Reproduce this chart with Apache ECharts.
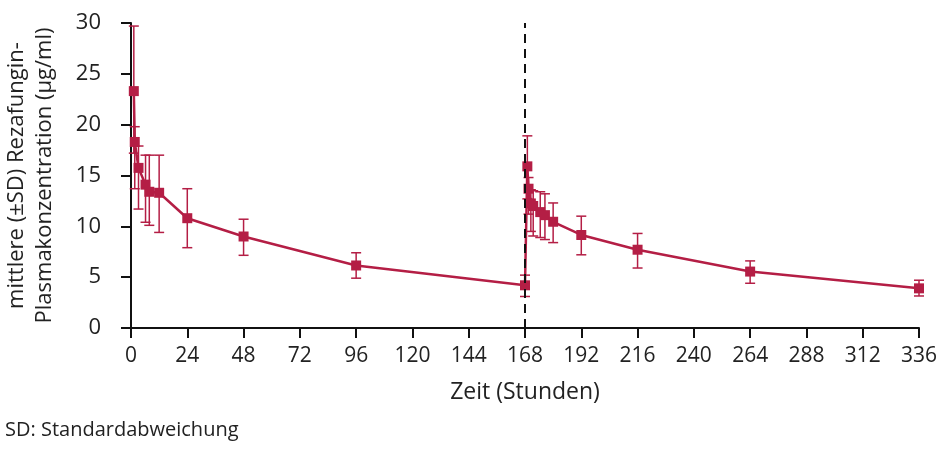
<!DOCTYPE html>
<html>
<head>
  <meta charset="utf-8">
  <script src="https://cdn.jsdelivr.net/npm/echarts@6/dist/echarts.min.js"></script>
  <style>
    html, body { margin: 0; padding: 0; background: #fff; }
  </style>
</head>
<body>
<div id="main" style="width: 940px; height: 450px"></div>
<script>
  // Zeitpunkte (Stunden) und Mittelwerte +/- SD
  const timeH = [1.2, 1.6, 3.2, 6.2, 7.8, 12, 24, 48, 96, 168,
    169, 169.5, 170.5, 171.5, 174.5, 176.5, 180, 192, 216, 264, 336];
  const meanConc = [23.3, 18.3, 15.75, 14.1, 13.4, 13.3, 10.8, 9.0, 6.15, 4.2,
    15.9, 13.7, 12.25, 12.0, 11.4, 11.1, 10.45, 9.15, 7.7, 5.55, 3.9];
  const lowerSD = [17.2, 13.7, 11.7, 10.4, 10.1, 9.4, 7.9, 7.15, 4.9, 3.1,
    12.7, 11.2, 9.5, 9.05, 8.9, 8.7, 8.4, 7.2, 5.9, 4.4, 3.15];
  const upperSD = [29.7, 19.8, 17.9, 17.0, 17.0, 17.0, 13.7, 10.7, 7.4, 5.2,
    18.9, 14.8, 13.6, 13.5, 13.4, 13.2, 12.3, 11.0, 9.3, 6.6, 4.7];
  const secondDoseH = 168;

  const red = '#b41e45';
  const font = "'Open Sans', 'Noto Sans', sans-serif";

  const lineData = timeH.map((t, i) => [t, meanConc[i]]);
  const errData = timeH.map((t, i) => [t, lowerSD[i], upperSD[i]]);

  const chart = echarts.init(document.getElementById('main'));

  chart.setOption({
    animation: false,
    grid: {
      left: 131, right: 21, top: 23, bottom: 122,
      containLabel: false,
      outerBoundsMode: 'none'
    },
    xAxis: {
      type: 'value',
      min: 0,
      max: 336,
      interval: 24,
      name: 'Zeit (Stunden)',
      nameLocation: 'middle',
      nameGap: 53,
      nameTextStyle: { color: '#222', fontSize: 23, fontFamily: font },
      axisLine: { lineStyle: { color: '#111', width: 2 } },
      axisTick: { length: 10, lineStyle: { color: '#111', width: 2 } },
      axisLabel: { color: '#222', fontSize: 21, fontFamily: font, margin: 18 },
      splitLine: { show: false }
    },
    yAxis: {
      type: 'value',
      min: 0,
      max: 30,
      interval: 5,
      name: 'mittlere (±SD) Rezafungin-\nPlasmakonzentration (µg/ml)',
      nameLocation: 'middle',
      nameGap: 72,
      nameTextStyle: { color: '#222', fontSize: 22, fontFamily: font, lineHeight: 28 },
      axisLine: { lineStyle: { color: '#111', width: 2 } },
      axisTick: { length: 10, lineStyle: { color: '#111', width: 2 } },
      axisLabel: { color: '#222', fontSize: 22, fontFamily: font, margin: 30 },
      splitLine: { show: false }
    },
    graphic: [{
      type: 'text',
      left: 5,
      top: 420,
      style: { text: 'SD: Standardabweichung', fill: '#222', fontSize: 20, fontFamily: font }
    }],
    series: [
      {
        type: 'custom',
        data: errData,
        z: 3,
        renderItem: function (params, api) {
          const x = api.value(0);
          const lo = api.coord([x, api.value(1)]);
          const hi = api.coord([x, api.value(2)]);
          const w = 5;
          const style = { stroke: red, lineWidth: 1.5 };
          return {
            type: 'group',
            children: [
              { type: 'line', shape: { x1: lo[0], y1: lo[1], x2: hi[0], y2: hi[1] }, style: style },
              { type: 'line', shape: { x1: hi[0] - w, y1: hi[1], x2: hi[0] + w, y2: hi[1] }, style: style },
              { type: 'line', shape: { x1: lo[0] - w, y1: lo[1], x2: lo[0] + w, y2: lo[1] }, style: style }
            ]
          };
        }
      },
      {
        type: 'line',
        data: lineData,
        z: 4,
        symbol: 'rect',
        symbolSize: 10,
        lineStyle: { color: red, width: 2.5 },
        itemStyle: { color: red },
        markLine: {
          silent: true,
          symbol: 'none',
          label: { show: false },
          lineStyle: { color: '#111', type: [9, 6], width: 2 },
          data: [{ xAxis: secondDoseH }]
        }
      }
    ]
  });
</script>
</body>
</html>
